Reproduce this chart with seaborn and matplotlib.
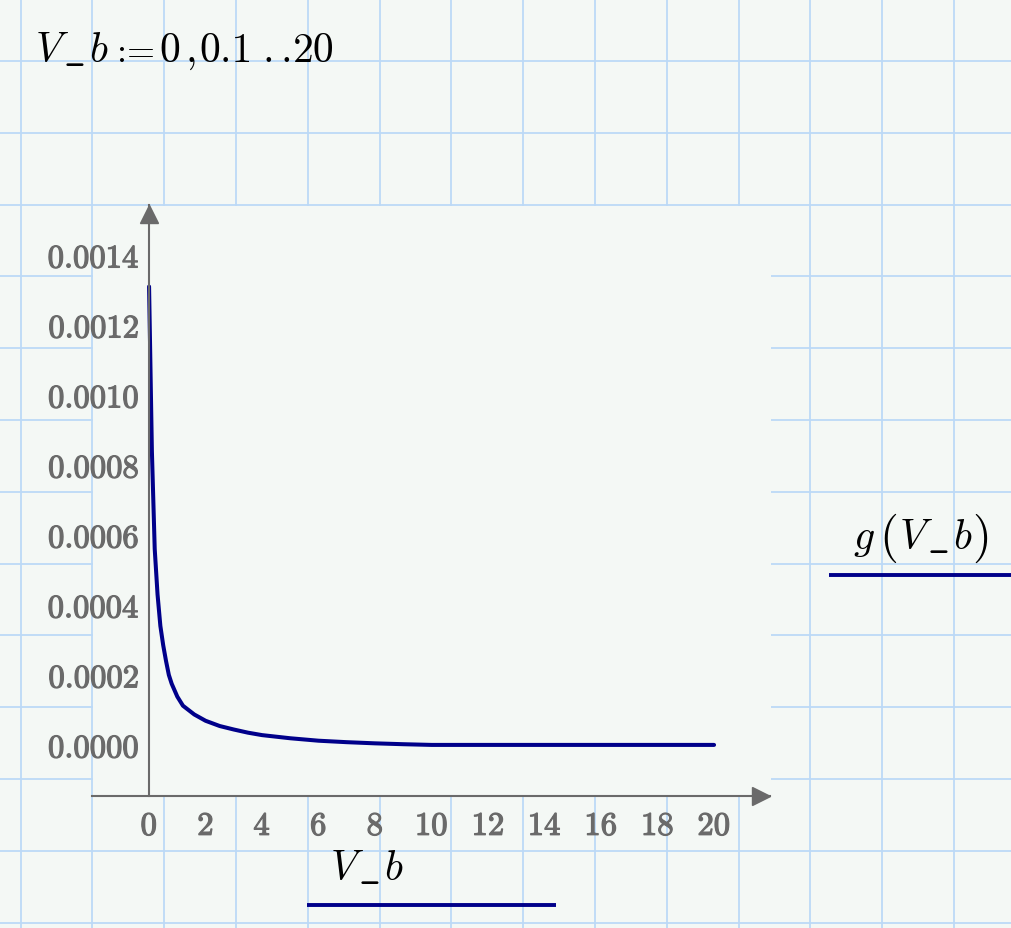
import numpy as np
import pandas as pd
import seaborn as sns
import matplotlib.pyplot as plt
import matplotlib.patheffects as pe
from matplotlib.patches import Rectangle
from matplotlib.ticker import FuncFormatter
from matplotlib.transforms import offset_copy

# values
vb = [0, 0.1, 0.2, 0.3, 0.4, 0.5, 0.6, 0.7, 0.8, 1.0, 1.2, 1.6, 2.0, 2.5, 3.0,
      3.5, 4.0, 5.0, 6.0, 7.0, 8.0, 9.0, 10.0, 12.0, 14.0, 16.0, 18.0, 20.0]
g_vb = [13.1e-4, 8.4e-4, 5.6e-4, 4.3e-4, 3.4e-4, 2.85e-4, 2.4e-4, 2.0e-4, 1.75e-4,
        1.38e-4, 1.12e-4, 0.87e-4, 0.69e-4, 0.54e-4, 0.44e-4, 0.35e-4, 0.28e-4,
        0.19e-4, 0.12e-4, 0.078e-4, 0.045e-4, 0.02e-4, 0.0, 0.0, 0.0, 0.0, 0.0, 0.0]
x_ticks = list(range(-2, 21, 2))
y_ticks = [0.0, 0.0002, 0.0004, 0.0006, 0.0008, 0.0010, 0.0012, 0.0014]

df = pd.DataFrame({'V_b': vb, 'g': g_vb})

sns.set_style('white')
plt.rcParams['mathtext.fontset'] = 'cm'
plt.rcParams['font.family'] = ['DejaVu Serif']

W, H = 1011, 929
page = '#f4f8f5'
gridc = '#bcd9f7'
axc = '#6a6a6a'
navy = '#00008a'

fig = plt.figure(figsize=(W / 100, H / 100), dpi=100)
fig.patch.set_facecolor(page)

# worksheet grid in pixel coordinates
bg = fig.add_axes([0, 0, 1, 1])
bg.set_xlim(0, W)
bg.set_ylim(H, 0)
bg.axis('off')
for gx in np.arange(20.5, W, 71.8):
    bg.axvline(gx, color=gridc, lw=1.3, zorder=0)
for gy in np.arange(62, H, 71.8):
    bg.axhline(gy, color=gridc, lw=1.3, zorder=0)
bg.add_patch(Rectangle((93, 206.5), 678, 591, facecolor=page, edgecolor='none', zorder=1))

# legend / label underlines
bg.plot([307, 556], [906, 906], color=navy, lw=2.8, solid_capstyle='butt', zorder=2)
bg.plot([829, 1011], [576, 576], color=navy, lw=2.8, solid_capstyle='butt', zorder=2)

# plot area
x0, x1 = 92, 770
y0, y1 = 206, 797
ax = fig.add_axes([x0 / W, 1 - y1 / H, (x1 - x0) / W, (y1 - y0) / H])
ax.patch.set_alpha(0)
sns.lineplot(data=df, x='V_b', y='g', ax=ax, color=navy, linewidth=2.9)
ax.set_xlim(-2.02, 21.98)
ax.set_ylim(-0.000146, 0.001543)

ax.spines['top'].set_visible(False)
ax.spines['right'].set_visible(False)
ax.spines['left'].set_position(('data', 0))
for s in ['left', 'bottom']:
    ax.spines[s].set_color(axc)
    ax.spines[s].set_linewidth(1.5)

ax.set_xticks(x_ticks)
ax.set_yticks(y_ticks)
ax.xaxis.set_major_formatter(FuncFormatter(lambda v, p: '' if v < 0 else r'$%d$' % v))
ax.yaxis.set_major_formatter(FuncFormatter(lambda v, p: r'$%.4f$' % v))
ax.tick_params(axis='both', direction='inout', length=10, width=1.3, color=axc,
               labelcolor=axc, labelsize=23.5)
ax.tick_params(axis='x', pad=5)
ax.tick_params(axis='y', pad=2)
for lab in ax.get_xticklabels() + ax.get_yticklabels():
    lab.set_path_effects([pe.withStroke(linewidth=0.9, foreground=axc)])
ax.set_xlabel('')
ax.set_ylabel('')

# arrow heads, tips at the axis ends
ax.plot(1, 0, marker='>', color=axc, markersize=13, clip_on=False,
        transform=offset_copy(ax.transAxes, fig, x=-9, y=0, units='dots'))
ax.plot(0, 1, marker='^', color=axc, markersize=13, clip_on=False,
        transform=offset_copy(ax.get_xaxis_transform(), fig, x=0, y=-9, units='dots'))


def put(px, py, s, **kw):
    fig.text(px / W, 1 - py / H, s, va='baseline', ha='left', color='black', **kw)


vname = r'$V\hspace{0.12}\_\hspace{0.1}b$'

# range definition at the top, built from pieces to keep Mathcad spacing
put(35, 62, vname, fontsize=30)
for px, s, fs in [(117, ':=', 26), (159, '0', 30), (186, ',', 30),
                  (199, '0.1', 30), (262, '.', 30), (280, '.', 30), (293, '20', 30)]:
    put(px, 62, s, fontsize=fs, family='cmr10')

# axis label and legend label
put(330, 880, vname, fontsize=30)
put(853, 549, r'$g$', fontsize=30)
put(879, 551, '(', fontsize=35, family='cmr10')
put(899, 549, vname, fontsize=30)
put(972, 551, ')', fontsize=35, family='cmr10')

fig.savefig('out.png', dpi=100, facecolor=page)
